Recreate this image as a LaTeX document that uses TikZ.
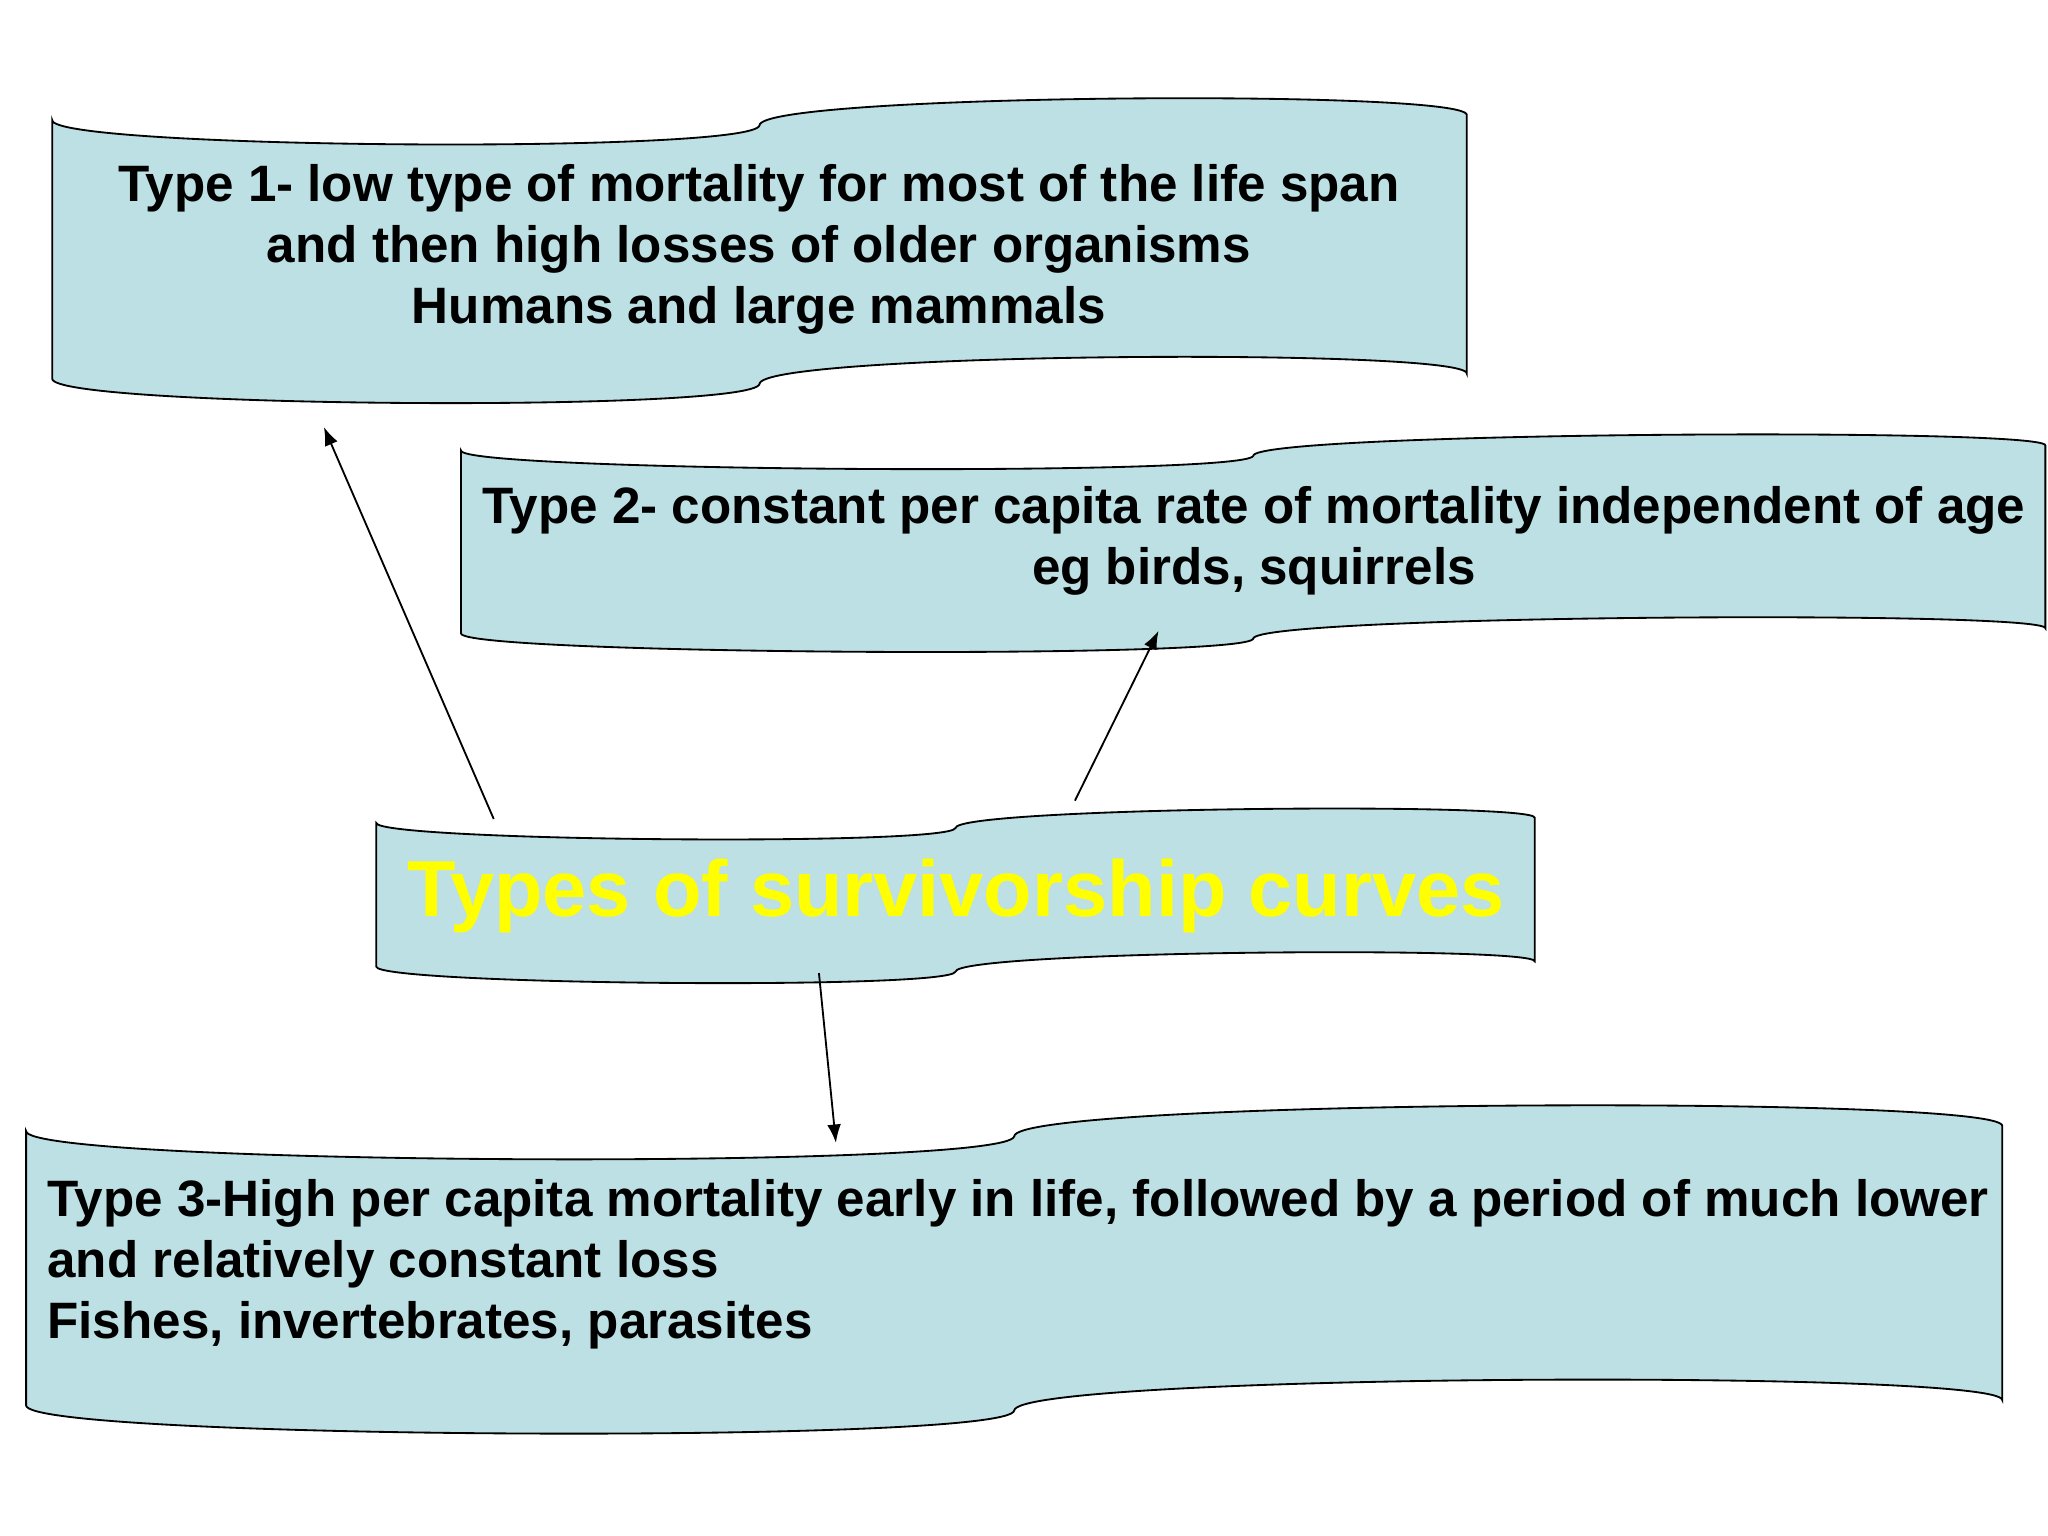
\documentclass[tikz,border=0pt]{standalone}
\usepackage{fontspec}
\setmainfont{Liberation Sans}
\usetikzlibrary{arrows.meta}
\definecolor{boxfill}{HTML}{BCE0E3}
\definecolor{ttl}{HTML}{FFFF00}
\newcommand{\banner}[5]{%
 \pgfmathsetmacro{\xa}{#1}\pgfmathsetmacro{\ya}{#2}%
 \pgfmathsetmacro{\xb}{#1+#3}\pgfmathsetmacro{\xm}{#1+#3/2}%
 \pgfmathsetmacro{\yb}{#2+#4}%
 \draw[bannerstyle] (\xa,\ya) .. controls (\xa,\ya+#5) and (\xm-5,\ya+#5+4) .. (\xm,\ya+4)
  .. controls (\xm,\ya-#5+2) and (\xb,\ya-#5-2) .. (\xb,\ya-4)
  -- (\xb,\yb-4) .. controls (\xb,\yb-#5-2) and (\xm,\yb-#5+2) .. (\xm,\yb+4)
  .. controls (\xm-5,\yb+#5+4) and (\xa,\yb+#5) .. (\xa,\yb) -- cycle;}
\begin{document}
\begin{tikzpicture}[x=0.02cm,y=-0.02cm,
 bannerstyle/.style={draw=black,line width=0.8pt,fill=boxfill},
 bodytext/.style={font=\bfseries\fontsize{22.3}{26.6}\selectfont,inner sep=0pt},
 conn/.style={-{Latex[length=8pt,width=6pt]},line width=0.8pt}]
\useasboundingbox (0,0) rectangle (1568,1176);
\banner{40}{92}{1083}{198}{22}
\banner{353}{345}{1213}{140}{16}
\banner{288}{630}{887}{110}{14}
\banner{20}{866}{1513}{210}{26}
\node[bodytext,align=center] (t1) at (581,191) {Type 1- low type of mortality for most of the life span\\and then high losses of older organisms\\Humans and large mammals};
\node[bodytext,align=center] (t2) at (960,414) {Type 2- constant per capita rate of mortality independent of age\\eg birds, squirrels};
\node[font=\bfseries\fontsize{34.6}{38}\selectfont,text=ttl,inner sep=0pt] (tt) at (732,686) {Types of survivorship curves};
\node[bodytext,align=left,anchor=west] (t3) at (36,968) {Type 3-High per capita mortality early in life, followed by a period of much lower\\and relatively constant loss\\Fishes, invertebrates, parasites};
\coordinate (a1s) at (378,627); \coordinate (a1e) at (248,327);
\coordinate (a2s) at (823,613); \coordinate (a2e) at (887,483);
\coordinate (a3s) at (627,745); \coordinate (a3e) at (640,875);
\draw[conn] (a1s) -- (a1e);
\draw[conn] (a2s) -- (a2e);
\draw[conn] (a3s) -- (a3e);
\end{tikzpicture}
\end{document}
